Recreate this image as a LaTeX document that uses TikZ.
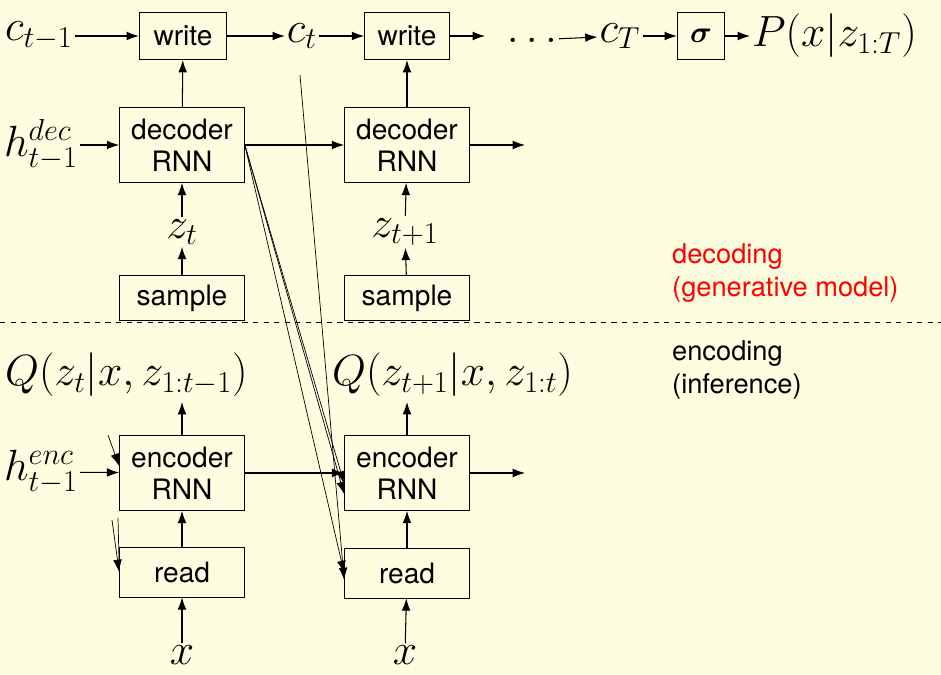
\documentclass[tikz,border=0pt]{standalone}
\usepackage{fontspec}
\setmainfont{TeX Gyre Heros}
\usepackage{bm}
\usetikzlibrary{positioning, arrows.meta}
\begin{document}
\begin{tikzpicture}[
    x=0.02cm, y=-0.02cm,
    unit/.style={rectangle, draw, minimum width=2.5cm, minimum height=1.5cm, align=center, font=\fontsize{16}{18}\selectfont},
    slim/.style={unit, minimum height=0.95cm},
    lbl/.style={font=\fontsize{26}{28}\selectfont, inner sep=1pt},
    flow/.style={-{Latex[length=7pt,width=5pt]}, semithick},
    cross/.style={-{Latex[length=7pt,width=5pt]}}
]
\fill[yellow!12] (0,0) rectangle (941,675);
\useasboundingbox (0,0) rectangle (941,675);

% Nodes
\node[slim, minimum width=1.75cm] (w1) at (183,36) {write};
\node[slim, minimum width=1.7cm] (w2) at (407,36) {write};
\node[slim, minimum width=0.95cm] (sig) at (701,36) {$\bm{\sigma}$};
\node[unit] (dec1) at (182,145) {decoder\\RNN};
\node[unit] (dec2) at (407,145) {decoder\\RNN};
\node[slim, minimum height=0.9cm] (s1) at (182,298) {sample};
\node[slim, minimum height=0.9cm] (s2) at (407,298) {sample};
\node[unit] (enc1) at (182,473) {encoder\\RNN};
\node[unit] (enc2) at (407,473) {encoder\\RNN};
\node[slim, minimum height=1cm] (r1) at (182,572) {read};
\node[slim, minimum height=1cm] (r2) at (407,573) {read};

\node[lbl, anchor=west] (c0) at (3,36) {$c_{t-1}$};
\node[lbl] (c1) at (302,36) {$c_t$};
\node[lbl] (dots) at (532,40) {$\dots$};
\node[lbl] (cT) at (620,36) {$c_T$};
\node[lbl, anchor=west] (P) at (750,36) {$P(x|z_{1:T})$};
\node[lbl, anchor=west] (hd) at (2,145) {$h^{dec}_{t-1}$};
\node[lbl, anchor=west] (he) at (2,472) {$h^{enc}_{t-1}$};
\node[lbl] (z1) at (182,232) {$z_t$};
\node[lbl] (z2) at (405,232) {$z_{t+1}$};
\node[lbl, anchor=west] (q1) at (3,375) {$Q(z_t|x,z_{1:t-1})$};
\node[lbl, anchor=west] (q2) at (330,375) {$Q(z_{t+1}|x,z_{1:t})$};
\node[lbl] (x1) at (182,655) {$x$};
\node[lbl] (x2) at (405,655) {$x$};
\node[anchor=west, align=left, text=red, font=\fontsize{15.5}{19}\selectfont] (gen) at (666,273) {decoding\\(generative model)};
\node[anchor=west, align=left, font=\fontsize{15.5}{19}\selectfont] (inf) at (666,370) {encoding\\(inference)};

\coordinate (dec2o) at (525,145);
\coordinate (enc2o) at (525,473);
\coordinate (w2o) at (485,36);
\coordinate (a1) at (108,435);
\coordinate (a2) at (112,520);
\coordinate (a3) at (118,518);
\coordinate (ctl) at (300,75);

% Edges
\draw[flow] (c0) -- (w1);
\draw[flow] (w1) -- (c1);
\draw[flow] (c1) -- (w2);
\draw[flow] (w2) -- (w2o);
\draw[flow] (dots) -- (cT);
\draw[flow] (cT) -- (sig);
\draw[flow] (sig) -- (P);
\draw[flow] (hd) -- (dec1);
\draw[flow] (he) -- (enc1);
\foreach \i in {1,2} {
  \draw[flow] (dec\i) -- (w\i);
  \draw[flow] (z\i) -- (dec\i);
  \draw[flow] (s\i) -- (z\i);
  \draw[flow] (enc\i) -- (enc\i |- 0,402);
  \draw[flow] (r\i) -- (enc\i);
  \draw[flow] (x\i) -- (r\i);
}
\draw[flow] (dec1) -- (dec2);
\draw[flow] (dec2) -- (dec2o);
\draw[flow] (enc1) -- (enc2);
\draw[flow] (enc2) -- (enc2o);
\draw[dashed] (0,322) -- (941,322);

% Crossing wires
\draw[cross] (dec1.east) -- ([yshift=-12pt]enc2.west);
\draw[cross] (dec1.east) -- ([yshift=-6pt]enc2.west);
\draw[cross] (dec1.east) -- (r2.west);
\draw[cross] (ctl) -- ([yshift=-4pt]r2.west);
\draw[cross] (a1) -- ([yshift=4pt]enc1.west);
\draw[cross] (a2) -- (r1.west);
\draw (a3) -- ([yshift=3pt]r1.west);
\end{tikzpicture}
\end{document}
